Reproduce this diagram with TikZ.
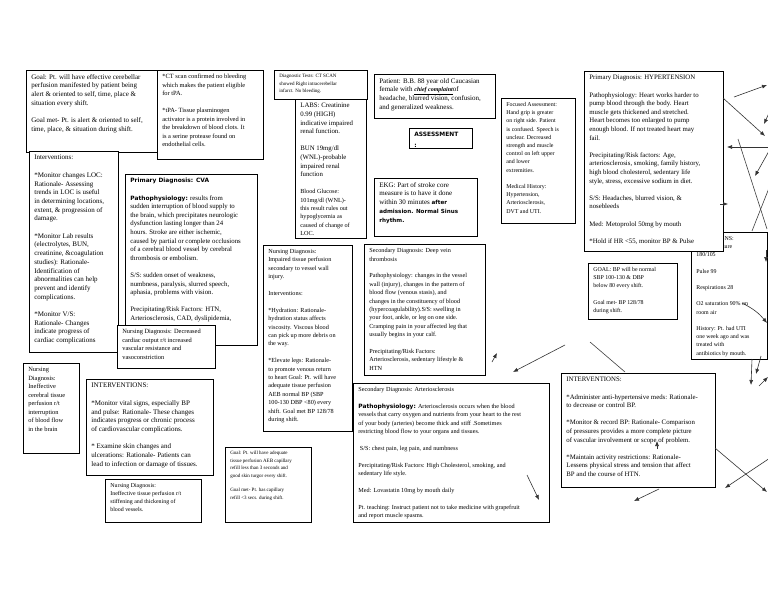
\documentclass[tikz,border=0pt]{standalone}
\usepackage{fontspec}
\setmainfont{Liberation Serif}
\setsansfont{DejaVu Sans}
\usetikzlibrary{shadows}
\usetikzlibrary{arrows.meta}
\newcommand*{\fsa}{\fontsize{7}{8.7}\selectfont}
\newcommand*{\fsb}{\fontsize{6.4}{8.5}\selectfont}
\newcommand*{\fsd}{\fontsize{6.8}{8.6}\selectfont}
\newcommand*{\fsk}{\fontsize{6.2}{8.4}\selectfont}
\newcommand*{\fss}{\fontsize{5.9}{8.2}\selectfont}
\newcommand*{\fst}{\fontsize{5}{7.4}\selectfont}
\newcommand*{\hdf}[1]{{\sffamily\bfseries\fontsize{5.9}{8.6}\selectfont #1}}
\newcommand*{\gap}{\\[\baselineskip]}
\newcommand*{\inbox}[3]{\parbox[t][\dimexpr#2pt-8pt\relax][t]{\dimexpr#1pt-10pt\relax}{\raggedright #3}}

\begin{document}
\begin{tikzpicture}[x=1pt, y=-1pt,
    mapbox/.style={draw, line width=0.7pt, fill=white, anchor=north west, inner xsep=5pt, inner ysep=4pt,
                   drop shadow={shadow xshift=1pt, shadow yshift=-1pt, fill=black!60, opacity=1}},
    arr/.style={-{Latex[length=5pt,width=4pt]}, line width=0.6pt, black!80},
    ln/.style={line width=0.6pt, black!75}]
    \fill[white] (0,0) rectangle (768,594);
    \useasboundingbox (0,0) rectangle (768,594);
    % stroke side
    \node[mapbox] (goalcva) at (26,70) {\inbox{131}{82}{\fsa Goal: Pt. will have effective cerebellar\\ perfusion manifested by patient being\\ alert \& oriented to self, time, place \&\\ situation every shift.\gap Goal met- Pt. is alert \& oriented to self,\\ time, place, \& situation during shift.}};
    \node[mapbox] (ctscan) at (157,70) {\inbox{106}{89}{\fsb *CT scan confirmed no bleeding\\ which makes the patient eligible\\ for tPA.\gap *tPA- Tissue plasminogen\\ activator is a protein involved in\\ the breakdown of blood clots. It\\ is a serine protease found on\\ endothelial cells.}};
    \node[mapbox] (intervcva) at (29,151) {\inbox{89}{201}{\fsa Interventions:\gap *Monitor changes LOC:\\ Rationale- Assessing\\ trends in LOC is useful\\ in determining locations,\\ extent, \& progression of\\ damage.\gap *Monitor Lab results\\ (electrolytes, BUN,\\ creatinine, \&coagulation\\ studies): Rationale-\\ Identification of\\ abnormalities can help\\ prevent and identify\\ complications.\gap *Monitor V/S:\\ Rationale- Changes\\ indicate progress of\\ cardiac complications}};
    \node[mapbox] (cva) at (125,174) {\inbox{132}{171}{\fsd \hdf{Primary Diagnosis: CVA}\gap \hdf{Pathophysiology:} results from\\ sudden interruption of blood supply to\\ the brain, which precipitates neurologic\\ dysfunction lasting longer than 24\\ hours. Stroke are either ischemic,\\ caused by partial or complete occlusions\\ of a cerebral blood vessel by cerebral\\ thrombosis or embolism.\gap S/S: sudden onset of weakness,\\ numbness, paralysis, slurred speech,\\ aphasia, problems with vision.\gap Precipitating/Risk Factors: HTN,\\ Arteriosclerosis, CAD, dyslipidemia,}};
    \node[mapbox] (nddco) at (117,325) {\inbox{98}{43}{\fsb Nursing Diagnosis: Decreased\\ cardiac output r/t increased\\ vascular resistance and\\ vasoconstriction}};
    \node[mapbox] (ndcereb) at (23,363) {\inbox{56}{90}{\fsb Nursing\\ Diagnosis:\\ Ineffective\\ cerebral tissue\\ perfusion r/t\\ interruption\\ of blood flow\\ in the brain}};
    \node[mapbox] (intervart) at (86,379) {\inbox{127}{96}{\fsa INTERVENTIONS:\gap *Monitor vital signs, especially BP\\ and pulse: Rationale- These changes\\ indicates progress or chronic process\\ of cardiovascular complications.\gap * Examine skin changes and\\ ulcerations: Rationale- Patients can\\ lead to infection or damage of tissues.}};
    \node[mapbox] (ndtiss) at (105,479) {\inbox{96}{43}{\fss Nursing Diagnosis:\\ Ineffective tissue perfusion r/t\\ stiffening and thickening of\\ blood vessels.}};
    \node[mapbox] (goaltiss) at (225,447) {\inbox{86}{75}{\fst Goal: Pt. will have adequate\\ tissue perfusion AEB capillary\\ refill less than 3 seconds and\\ good skin turgor every shift.\gap Goal met- Pt. has capillary\\ refill <3 secs. during shift.}};
    % tests and labs
    \node[mapbox] (diagtest) at (274,70) {\inbox{93}{29}{\fst Diagnostic Tests: CT SCAN\\ showed Right intracerebellar\\ infarct. No bleeding.}};
    \node[mapbox] (labs) at (295,99) {\inbox{71}{139}{\fsd LABS: Creatinine\\ 0.99 (HIGH)\\ indicative impaired\\ renal function.\gap BUN 19mg/dl\\ (WNL)-probable\\ impaired renal\\ function\gap \fsk Blood Glucose:\\ 101mg/dl (WNL)-\\ this result rules out\\ hypoglycemia as\\ caused of change of\\ LOC.}};
    \node[mapbox] (ndimp) at (263,245) {\inbox{89}{186}{\fsk Nursing Diagnosis:\\ Impaired tissue perfusion\\ secondary to vessel wall\\ injury.\gap Interventions:\gap *Hydration: Rationale-\\ hydration status affects\\ viscosity. Viscous blood\\ can pick up more debris on\\ the way.\gap *Elevate legs: Rationale-\\ to promote venous return\\ to heart Goal: Pt. will have\\ adequate tissue perfusion\\ AEB normal BP (SBP\\ 100-130 DBP <80) every\\ shift. Goal met BP 128/78\\ during shift.}};
    % assessment
    \node[mapbox] (patient) at (374,74) {\inbox{121}{44}{\fsa Patient: B.B. 88 year old Caucasian\\ female with {\fontsize{6}{8.7}\selectfont\underline{\textbf{\textit{chief complaint}}}}of\\ headache, blurred vision, confusion,\\ and generalized weakness.}};
    \node[mapbox] (assess) at (409,128) {\inbox{63}{20}{\hdf{ASSESSMENT}\\[-1pt] \hdf{:}}};
    \node[mapbox] (focus) at (501,98) {\inbox{74}{125}{\fss Focused Assessment:\\ Hand grip is greater\\ on right side. Patient\\ is confused. Speech is\\ unclear. Decreased\\ strength and muscle\\ control on left upper\\ and lower\\ extremities.\gap Medical History:\\ Hypertension,\\ Arteriosclerosis,\\ DVT and UTI.}};
    \node[mapbox] (ekg) at (374,178) {\inbox{103}{58}{\fsa EKG: Part of stroke core\\ measure is to have it done\\ within 30 minutes {\sffamily\bfseries\fontsize{5.6}{8.8}\selectfont after}\\ {\sffamily\bfseries\fontsize{5.6}{8.8}\selectfont admission. Normal Sinus}\\ {\sffamily\bfseries\fontsize{5.6}{8.8}\selectfont rhythm.}}};
    \node[mapbox] (dvt) at (364,244) {\inbox{121}{131}{\fsk Secondary Diagnosis: Deep vein\\ thrombosis\gap Pathophysiology: changes in the vessel\\ wall (injury), changes in the pattern of\\ blood flow (venous stasis), and\\ changes in the constituency of blood\\ (hypercoagulability).S/S: swelling in\\ your foot, ankle, or leg on one side.\\ Cramping pain in your affected leg that\\ usually begins in your calf.\gap Precipitating/Risk Factors:\\ Arteriosclerosis, sedentary lifestyle \&\\ HTN}};
    \node[mapbox] (arterio) at (353,383) {\inbox{196}{139}{\fsk Secondary Diagnosis: Arteriosclerosis\gap \hdf{Pathophysiology:} Arteriosclerosis occurs when the blood\\ vessels that carry oxygen and nutrients from your heart to the rest\\ of your body (arteries) become thick and stiff .Sometimes\\ restricting blood flow to your organs and tissues.\gap \ S/S: chest pain, leg pain, and numbness\gap Percipitating/Risk Factors: High Cholesterol, smoking, and\\ sedentary life style.\gap Med: Lovastatin 10mg by mouth daily\gap Pt. teaching: Instruct patient not to take medicine with grapefruit\\ and report muscle spasms.}};
    % hypertension side
    \node[mapbox] (vitals) at (691,232) {\inbox{76}{127}{\fss VITAL SIGNS:\\ Blood Pressure\\ 180/105\gap Pulse 99\gap Respirations 28\gap O2 saturation 90\% on\\ room air\gap History: Pt. had UTI\\ one week ago and was\\ treated with\\ antibiotics by mouth.}};
    \node[mapbox] (htn) at (584,71) {\inbox{139}{180}{\fsd Primary Diagnosis: HYPERTENSION\gap Pathophysiology: Heart works harder to\\ pump blood through the body. Heart\\ muscle gets thickened and stretched.\\ Heart becomes too enlarged to pump\\ enough blood. If not treated heart may\\ fail.\gap Precipitating/Risk factors: Age,\\ arteriosclerosis, smoking, family history,\\ high blood cholesterol, sedentary life\\ style, stress, excessive sodium in diet.\gap S/S: Headaches, blurred vision, \&\\ nosebleeds\gap Med: Metoprolol 50mg by mouth\gap *Hold if HR <55, monitor BP \& Pulse}};
    \node[mapbox] (goalbp) at (588,263) {\inbox{89}{56}{\fss GOAL: BP will be normal\\ SBP 100-130 \& DBP\\ below 80 every shift.\gap Goal met- BP 128/78\\ during shift.}};
    \node[mapbox] (intervhtn) at (561,373) {\inbox{154}{114}{\fsd INTERVENTIONS:\gap *Administer anti-hypertensive meds: Rationale-\\ to decrease or control BP.\gap *Monitor \& record BP: Rationale- Comparison\\ of pressures provides a more complete picture\\ of vascular involvement or scope of problem.\gap *Maintain activity restrictions: Rationale-\\ Lessens physical stress and tension that affect\\ BP and the course of HTN.}};
    % loose connectors
    \coordinate (p1) at (734,97);  \coordinate (q1) at (767,85);
    \coordinate (p2) at (723,98);  \coordinate (q2) at (765,136);
    \coordinate (p3) at (769,113); \coordinate (q3) at (764,124);
    \coordinate (p4) at (768,147); \coordinate (q4) at (727,147);
    \coordinate (p5) at (738,139); \coordinate (q5) at (767,229);
    \coordinate (p6) at (769,151); \coordinate (q6) at (755,176);
    \coordinate (p7) at (769,188); \coordinate (q7) at (752,231);
    \coordinate (p8) at (720,204); \coordinate (q8) at (728,204);
    \coordinate (p9) at (766,250); \coordinate (q9) at (766,262);
    \coordinate (p10) at (742,303); \coordinate (q10) at (767,323);
    \coordinate (p11) at (752,359); \coordinate (q11) at (751,385);
    \coordinate (p12) at (761,356); \coordinate (q12) at (756,374);
    \coordinate (p13) at (759,386); \coordinate (q13) at (768,377);
    \coordinate (p14) at (590,342); \coordinate (q14) at (625,372);
    \coordinate (p15) at (715,448); \coordinate (q15) at (767,492);
    \coordinate (p16) at (770,458); \coordinate (q16) at (725,488);
    \coordinate (p17) at (659,489); \coordinate (q17) at (634,501);
    \coordinate (p18) at (657,449); \coordinate (q18) at (657,441);
    \coordinate (p19) at (492,362); \coordinate (q19) at (497,353);
    \coordinate (p20) at (565,345); \coordinate (q20) at (513,372);
    \coordinate (p21) at (527,475); \coordinate (q21) at (539,500);
    \draw[arr] (p1) -- (q1);
    \draw[arr] (p2) -- (q2);
    \draw[arr] (p3) -- (q3);
    \draw[arr] (p4) -- (q4);
    \draw[ln]  (p5) -- (q5);
    \draw[arr] (p6) -- (q6);
    \draw[ln]  (p7) -- (q7);
    \draw[arr] (p8) -- (q8);
    \draw[arr] (p9) -- (q9);
    \draw[arr] (p10) to[bend left=12] (q10);
    \draw[arr] (p11) -- (q11);
    \draw[arr] (p12) -- (q12);
    \draw[arr] (p13) -- (q13);
    \draw[ln]  (p14) -- (q14);
    \draw[arr] (p15) -- (q15);
    \draw[arr] (p16) -- (q16);
    \draw[arr] (p17) -- (q17);
    \draw[arr] (p18) -- (q18);
    \draw[arr] (p19) -- (q19);
    \draw[arr] (p20) -- (q20);
    \draw[arr] (p21) -- (q21);
\end{tikzpicture}
\end{document}
